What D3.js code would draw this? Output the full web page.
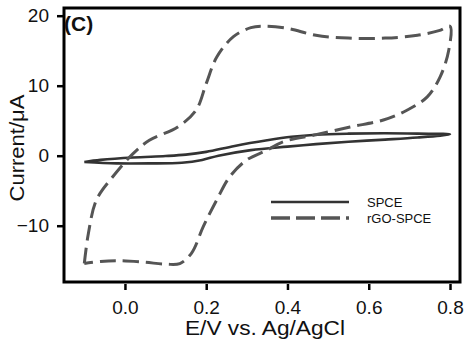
<!DOCTYPE html>
<html>
<head>
<meta charset="utf-8">
<script src="https://cdn.jsdelivr.net/npm/d3@7"></script>
<style>
  body { margin: 0; background: #fff; }
  svg text { font-family: "Liberation Sans", Arial, sans-serif; fill: #111; }
</style>
</head>
<body>
<svg class="chart"></svg>
<script>
// SPCE loop: forward branch (-0.1 -> 0.8) then reverse (0.8 -> -0.1)
var spceE = [-0.10, -0.06, 0.02, 0.10, 0.15, 0.20, 0.27, 0.35, 0.41, 0.47, 0.55, 0.64, 0.72, 0.80,
             0.72, 0.64, 0.55, 0.47, 0.40, 0.31, 0.23, 0.19, 0.14, 0.06, -0.02, -0.10];
var spceI = [-0.9, -0.6, -0.25, -0.05, 0.15, 0.55, 1.4, 2.2, 2.7, 3.0, 3.15, 3.2, 3.15, 3.05,
             2.6, 2.3, 2.0, 1.65, 1.3, 0.8, 0.0, -0.6, -1.0, -1.1, -1.1, -0.9];

// rGO-SPCE loop
var rgoE = [-0.10, -0.09, -0.07, -0.03, 0.02, 0.06, 0.13, 0.175, 0.20, 0.226, 0.267, 0.31, 0.34, 0.40, 0.47, 0.55, 0.64, 0.72, 0.775, 0.80,
            0.797, 0.776, 0.744, 0.694, 0.636, 0.554, 0.47, 0.39, 0.35, 0.30, 0.258, 0.226, 0.193, 0.164, 0.135, 0.103, 0.045, -0.02, -0.06, -0.10];
var rgoI = [-15.4, -11.1, -6.3, -3.0, 0.3, 2.2, 4.1, 6.5, 10.3, 14.1, 17.0, 18.3, 18.5, 18.2, 17.2, 16.8, 16.8, 17.2, 17.9, 18.5,
            15.1, 11.3, 8.4, 6.5, 5.1, 4.1, 3.0, 2.0, 0.8, -0.6, -3.0, -6.3, -10.1, -13.9, -15.4, -15.5, -15.2, -15.0, -15.1, -15.4];

var xTicks = [0.0, 0.2, 0.4, 0.6, 0.8];
var yTicks = [-10, 0, 10, 20];
var seriesNames = ["SPCE", "rGO-SPCE"];

var margin = { top: 8, right: 14, bottom: 67, left: 64 },
    width = 474 - margin.left - margin.right,
    height = 349 - margin.top - margin.bottom;

var svg = d3.select(".chart")
    .attr("width", 474)
    .attr("height", 349);

var chart = svg.append("g")
    .attr("transform", "translate(" + margin.left + "," + margin.top + ")");

var x = d3.scaleLinear().domain([-0.150, 0.8246]).range([0, width]);
var y = d3.scaleLinear().domain([21.1, -18.04]).range([0, height]);

// axes (ticks outside the frame)
var xAxis = chart.append("g")
    .attr("transform", "translate(0," + (height + 2) + ")")
    .call(d3.axisBottom(x).tickValues(xTicks).tickFormat(d3.format(".1f")).tickSize(6).tickPadding(11));
var yAxis = chart.append("g")
    .attr("transform", "translate(-1,0)")
    .call(d3.axisLeft(y).tickValues(yTicks).tickFormat(d3.format("d")).tickSize(6).tickPadding(8));

[xAxis, yAxis].forEach(function(a) {
    a.select(".domain").remove();
    a.selectAll("line").attr("stroke", "#000").attr("stroke-width", 2.5);
    a.selectAll("text").style("font-size", "19px").attr("fill", "#111");
});

var line = d3.line()
    .x(function(d) { return x(d[0]); })
    .y(function(d) { return y(d[1]); })
    .curve(d3.curveCatmullRom.alpha(0.5));

var spce = spceE.map(function(e, i) { return [e, spceI[i]]; });
var rgo = rgoE.map(function(e, i) { return [e, rgoI[i]]; });

chart.append("path")
    .datum(spce)
    .attr("d", line)
    .attr("fill", "none")
    .attr("stroke", "#333")
    .attr("stroke-width", 2.6);

chart.append("path")
    .datum(rgo)
    .attr("d", line)
    .attr("fill", "none")
    .attr("stroke", "#555")
    .attr("stroke-width", 3)
    .attr("stroke-dasharray", "16,7");

// frame
chart.append("rect")
    .attr("width", width)
    .attr("height", height)
    .attr("fill", "none")
    .attr("stroke", "#000")
    .attr("stroke-width", 3);

// panel label
chart.append("text")
    .attr("x", 0)
    .attr("y", 23)
    .style("font-size", "21px")
    .style("font-weight", "bold")
    .text("(C)");

// legend
var legend = chart.append("g")
    .attr("transform", "translate(" + (271 - margin.left) + "," + (202 - margin.top) + ")");
seriesNames.forEach(function(name, i) {
    legend.append("line")
        .attr("x1", 0).attr("x2", 78)
        .attr("y1", i * 16).attr("y2", i * 16)
        .attr("stroke", i === 0 ? "#333" : "#555")
        .attr("stroke-width", i === 0 ? 2.6 : 3.5)
        .attr("stroke-dasharray", i === 0 ? null : "19,6");
    legend.append("text")
        .attr("x", 96)
        .attr("y", i * 16 + 4.5)
        .style("font-size", "13px")
        .attr("fill", "#222")
        .text(name);
});

// axis titles
svg.append("text")
    .attr("x", 265)
    .attr("y", 335)
    .attr("text-anchor", "middle")
    .attr("textLength", 160)
    .attr("lengthAdjust", "spacingAndGlyphs")
    .style("font-size", "20px")
    .text("E/V vs. Ag/AgCl");

svg.append("text")
    .attr("transform", "translate(24,148) rotate(-90)")
    .attr("text-anchor", "middle")
    .attr("textLength", 107)
    .attr("lengthAdjust", "spacingAndGlyphs")
    .style("font-size", "20px")
    .text("Current/μA");
</script>
</body>
</html>
